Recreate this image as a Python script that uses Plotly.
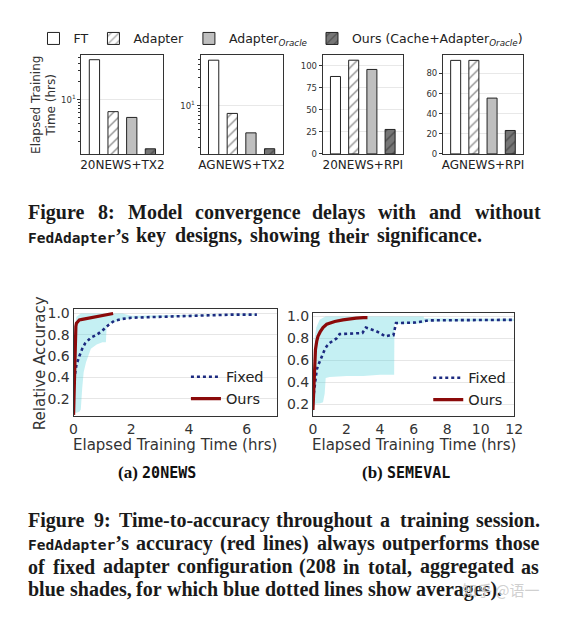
import plotly.graph_objects as go

W, H = 568, 619

# ---- Figure 8 data (elapsed training time, hrs) ----
datasets = ["20NEWS+TX2", "AGNEWS+TX2", "20NEWS+RPI", "AGNEWS+RPI"]
method_names = ["FT", "Adapter", "Adapter<sub><i>Oracle</i></sub>",
                "Ours (Cache+Adapter<sub><i>Oracle</i></sub>)"]
ft_hrs = [46, 58, 88, 93]
adapter_hrs = [6.3, 7.5, 106.5, 93]
oracle_hrs = [5.05, 3.55, 96, 55.5]
ours_hrs = [1.52, 1.93, 27.8, 23.3]

# ---- Figure 9 data (relative accuracy) ----
news_ours_t = [0, 0.02, 0.04, 0.06, 0.08, 0.1, 0.15, 0.2, 0.3, 0.4, 0.5, 0.6, 0.7,
               0.8, 0.9, 1.0, 1.1, 1.2, 1.3, 1.37]
news_ours_acc = [0.05, 0.35, 0.6, 0.8, 0.88, 0.91, 0.93, 0.94, 0.945, 0.95, 0.955,
                 0.96, 0.965, 0.97, 0.975, 0.98, 0.985, 0.99, 0.995, 1.0]
news_fixed_t = [0.02, 0.05, 0.1, 0.2, 0.3, 0.4, 0.6, 0.8, 1.0, 1.2, 1.4, 1.7, 2.0,
                2.5, 3.0, 3.5, 4.0, 4.5, 5.0, 5.5, 6.0, 6.35]
news_fixed_acc = [0.38, 0.45, 0.52, 0.6, 0.67, 0.72, 0.775, 0.8, 0.84, 0.89, 0.93,
                  0.95, 0.96, 0.965, 0.97, 0.975, 0.98, 0.985, 0.99, 0.99, 0.99, 0.99]
news_band_t = [0, 0.05, 0.1, 0.2, 0.25, 0.3, 0.35, 0.43, 0.5, 0.6, 0.8, 1.0, 1.12,
               1.15, 1.3, 1.5, 1.7, 2.0, 3.0, 4.0, 5.0, 6.35]
news_band_lo = [0.07, 0.07, 0.07, 0.08, 0.1, 0.3, 0.45, 0.54, 0.6, 0.67, 0.71, 0.73,
                0.73, 0.9, 0.91, 0.93, 0.945, 0.955, 0.965, 0.975, 0.985, 0.985]
news_band_hi = [0.5, 0.9, 0.97, 0.99, 1.0, 1.0, 1.0, 1.0, 1.0, 1.0, 1.0, 1.0, 1.0,
                1.0, 1.0, 1.0, 1.0, 0.98, 0.985, 0.99, 0.995, 0.995]

sem_ours_t = [0, 0.05, 0.1, 0.15, 0.23, 0.3, 0.43, 0.6, 0.82, 1.0, 1.3, 1.79, 2.2,
              2.57, 3.0, 3.25]
sem_ours_acc = [0.15, 0.4, 0.6, 0.7, 0.78, 0.82, 0.86, 0.9, 0.93, 0.94, 0.955, 0.97,
                0.98, 0.985, 0.99, 0.99]
sem_fixed_t = [0.05, 0.15, 0.23, 0.35, 0.53, 0.7, 0.82, 1.0, 1.2, 1.4, 1.59, 2.0, 2.5,
               2.95, 3.15, 3.4, 3.73, 4.0, 4.3, 4.6, 4.8, 4.95, 5.3, 6.1, 6.9, 8.0,
               9.0, 10.0, 11.0, 12.0]
sem_fixed_acc = [0.3, 0.45, 0.52, 0.57, 0.64, 0.7, 0.73, 0.76, 0.78, 0.8, 0.84, 0.845,
                 0.845, 0.85, 0.9, 0.89, 0.87, 0.85, 0.82, 0.83, 0.83, 0.94, 0.94,
                 0.945, 0.965, 0.965, 0.965, 0.97, 0.97, 0.97]
sem_band_t = [0, 0.1, 0.2, 0.4, 0.6, 0.7, 0.76, 1.0, 2.0, 3.0, 4.0, 4.84, 4.86, 5.5,
              6.6, 6.62, 8, 10, 12]
sem_band_lo = [0.12, 0.2, 0.21, 0.21, 0.22, 0.3, 0.44, 0.45, 0.46, 0.46, 0.47, 0.47,
               0.93, 0.935, 0.94, 0.955, 0.955, 0.96, 0.96]
sem_band_hi = [0.35, 0.8, 0.9, 0.97, 0.99, 1.0, 1.0, 1.0, 1.0, 1.0, 1.0, 1.0, 1.0,
               1.0, 1.0, 0.985, 0.985, 0.98, 0.98]

# ---- caption text ----
fig8_lines = ["Figure 8: Model convergence delays with and without",
              "FedAdapter’s key designs, showing their significance."]
fig9_lines = ["Figure 9: Time-to-accuracy throughout a training session.",
              "FedAdapter’s accuracy (red lines) always outperforms those",
              "of fixed adapter configuration (208 in total, aggregated as",
              "blue shades, for which blue dotted lines show averages)."]

# the page body adds a small margin, so positions are shifted back by it
OFF = 8


def fx(p):
    return (p - OFF) / W


def fy(p):
    return 1 - (p - OFF) / H


SANS = "DejaVu Sans"
SERIF = "Liberation Serif"
MONO = "DejaVu Sans Mono"
CAP_SIZE = 20
MONO_SIZE = 14.5

fig = go.Figure()

# bar panels: pixel boxes
bar_boxes = [(79, 163), (201, 285), (326, 408), (449, 531)]
bar_vals = [ft_hrs, adapter_hrs, oracle_hrs, ours_hrs]
bar_fill = ["white", "white", "#bfbfbf", "#767676"]
bar_shape = ["", "/", "", "/"]

for p in range(4):
    ax = "" if p == 0 else str(p + 1)
    for m in range(4):
        fig.add_trace(go.Bar(
            x=[m], y=[bar_vals[m][p]], name=method_names[m],
            width=0.55, xaxis="x" + ax, yaxis="y" + ax,
            legendgroup=str(m), showlegend=(p == 0), legend="legend",
            marker=dict(color=bar_fill[m], line=dict(color="#222", width=1),
                        pattern=dict(shape=bar_shape[m], fgcolor="#222",
                                     bgcolor=bar_fill[m], size=7, solidity=0.2)),
        ))

axis_frame = dict(showline=True, mirror=True, linecolor="#333", linewidth=1,
                  zeroline=False)
log_ranges = [[0.097, 1.735], [0.199, 1.844]]
lin_ranges = [[0, 112], [0, 98]]
lin_dtick = [25, 20]

for p in range(4):
    key = "" if p == 0 else str(p + 1)
    x0, x1 = bar_boxes[p]
    fig.layout["xaxis" + key] = dict(
        domain=[fx(x0), fx(x1)], anchor="y" + key, range=[-0.7, 3.7],
        tickvals=[1.5], ticktext=[datasets[p]], ticks="", showgrid=False,
        tickfont=dict(family=SANS, size=12, color="#222"), **axis_frame)
    ydict = dict(domain=[fy(152), fy(52)], anchor="x" + key, showgrid=True,
                 gridcolor="#e8e8e8", ticks="outside", ticklen=3, tickcolor="#333",
                 tickfont=dict(family=SANS, size=8.5, color="#333"), **axis_frame)
    if p < 2:
        ydict.update(type="log", range=log_ranges[p], tickvals=[10],
                     ticktext=["10<sup>1</sup>"],
                     minor=dict(ticks="outside", ticklen=2, tickcolor="#333",
                                tickvals=[2, 3, 4, 5, 6, 7, 8, 9, 20, 30, 40, 50, 60],
                                showgrid=False))
    else:
        ydict.update(range=lin_ranges[p - 2], dtick=lin_dtick[p - 2])
    fig.layout["yaxis" + key] = ydict

# accuracy panels
band_fill = "rgba(80,208,218,0.33)"
navy = "#1c2a80"
red = "#8b0a0a"
acc_sets = [
    (news_band_t, news_band_lo, news_band_hi, news_fixed_t, news_fixed_acc,
     news_ours_t, news_ours_acc, "5", "legend2"),
    (sem_band_t, sem_band_lo, sem_band_hi, sem_fixed_t, sem_fixed_acc,
     sem_ours_t, sem_ours_acc, "6", "legend3"),
]
for bt, blo, bhi, ft, fa, ot, oa, k, lg in acc_sets:
    fig.add_trace(go.Scatter(x=bt, y=blo, mode="lines", line=dict(width=0),
                             showlegend=False, hoverinfo="skip",
                             xaxis="x" + k, yaxis="y" + k))
    fig.add_trace(go.Scatter(x=bt, y=bhi, mode="lines", line=dict(width=0),
                             fill="tonexty", fillcolor=band_fill, showlegend=False,
                             hoverinfo="skip", xaxis="x" + k, yaxis="y" + k))
    fig.add_trace(go.Scatter(x=ft, y=fa, mode="lines", name="Fixed", legend=lg,
                             line=dict(color=navy, width=2.6, dash="dot"),
                             xaxis="x" + k, yaxis="y" + k))
    fig.add_trace(go.Scatter(x=ot, y=oa, mode="lines", name="Ours", legend=lg,
                             line=dict(color=red, width=3.2),
                             xaxis="x" + k, yaxis="y" + k))

acc_tick = dict(family=SANS, size=14, color="#333")
fig.layout.xaxis5 = dict(domain=[fx(71), fx(279)], anchor="y5", range=[0, 7.04],
                         tickvals=[0, 2, 4, 6], ticks="", showgrid=False,
                         tickfont=acc_tick, **axis_frame)
fig.layout.yaxis5 = dict(domain=[fy(418), fy(309)], anchor="x5", range=[0.039, 1.046],
                         tickvals=[0.2, 0.4, 0.6, 0.8, 1.0], tickformat=".1f",
                         ticks="", showgrid=True,
                         gridcolor="#e6e6e6", tickfont=acc_tick, **axis_frame)
fig.layout.xaxis6 = dict(domain=[fx(316), fx(522)], anchor="y6", range=[0, 12],
                         dtick=2, ticks="", showgrid=False,
                         tickfont=acc_tick, **axis_frame)
fig.layout.yaxis6 = dict(domain=[fy(418), fy(313)], anchor="x6", range=[0.095, 1.036],
                         tickvals=[0.2, 0.4, 0.6, 0.8, 1.0], tickformat=".1f",
                         ticks="", showgrid=True,
                         gridcolor="#e6e6e6", tickfont=acc_tick, **axis_frame)

ann = []
# axis titles
ann.append(dict(text="Elapsed Training<br>Time (hrs)", x=fx(40), y=fy(102),
                textangle=-90, font=dict(family=SANS, size=12, color="#333")))
ann.append(dict(text="Relative Accuracy", x=fx(36), y=fy(364), textangle=-90,
                font=dict(family=SANS, size=15, color="#333")))
for cx in (175, 419):
    ann.append(dict(text="Elapsed Training Time (hrs)", x=fx(cx), y=fy(447),
                    font=dict(family=SANS, size=15, color="#333")))

# sub captions
mono_span = "<span style=\"font-family:'{}';font-size:{}px\">{}</span>"
ann.append(dict(text="<b>(a) " + mono_span.format(MONO, 15, "20NEWS") + "</b>",
                x=fx(156), y=fy(475), font=dict(family=SERIF, size=17, color="#111")))
ann.append(dict(text="<b>(b) " + mono_span.format(MONO, 15, "SEMEVAL") + "</b>",
                x=fx(411), y=fy(475), font=dict(family=SERIF, size=17, color="#111")))

# caption words (Times-Bold-like advance widths, per em)
widths = {}
for chars, w in [(" .,;", 0.25), ("il", 0.278), ("ftj():-’'", 0.333), ("sI", 0.389),
                 ("ecrz", 0.444), ("agovxy0123456789", 0.5), ("bdhknpquS", 0.556),
                 ("BEFPT", 0.667), ("wACDNR", 0.722), ("GHO", 0.778), ("m", 0.833),
                 ("M", 0.944)]:
    for c in chars:
        widths[c] = w


def word_width(word):
    if word.startswith("FedAdapter"):
        rest = word[len("FedAdapter"):]
        return 10 * 0.602 * MONO_SIZE + sum(widths.get(c, 0.5) for c in rest) * CAP_SIZE
    return sum(widths.get(c, 0.5) for c in word) * CAP_SIZE


def word_markup(word):
    if word.startswith("FedAdapter"):
        word = mono_span.format(MONO, MONO_SIZE, "FedAdapter") + word[len("FedAdapter"):]
    return "<b>" + word + "</b>"


def set_line(text, ypix, left=22, right=545):
    words = text.split(" ")
    ws = [word_width(w) for w in words]
    gap = (right - left - sum(ws)) / (len(words) - 1)
    xpos = left
    for w, wd in zip(words, ws):
        ann.append(dict(text=word_markup(w), x=fx(xpos), y=fy(ypix), xanchor="left",
                        font=dict(family=SERIF, size=CAP_SIZE, color="#1a1a1a")))
        xpos += wd + gap


set_line(fig8_lines[0], 211)
set_line(fig8_lines[1], 235, right=485)
for i, line in enumerate(fig9_lines):
    set_line(line, [524, 547, 571, 594][i], right=(506 if i == 3 else 545))

# watermark
ann.append(dict(text="知乎 @语一", x=fx(508), y=fy(594),
                font=dict(family="Noto Sans CJK SC", size=15, color="rgba(205,205,205,0.95)")))

for a in ann:
    a.setdefault("xref", "paper")
    a.setdefault("yref", "paper")
    a.setdefault("showarrow", False)
    a.setdefault("xanchor", "center")
    a.setdefault("yanchor", "middle")
fig.update_layout(annotations=ann)

fig.update_layout(
    width=W, height=H, margin=dict(l=0, r=0, t=0, b=0),
    paper_bgcolor="white", plot_bgcolor="white", barmode="overlay",
    font=dict(family=SANS, color="#222"),
    legend=dict(orientation="h", x=fx(30), y=fy(20), xanchor="left", yanchor="top",
                font=dict(family=SANS, size=12.5, color="#222"),
                bgcolor="rgba(0,0,0,0)", traceorder="normal"),
    legend2=dict(x=fx(186), y=fy(362), xanchor="left", yanchor="top",
                 font=dict(family=SANS, size=14.5, color="#222"),
                 bgcolor="rgba(0,0,0,0)", tracegroupgap=0),
    legend3=dict(x=fx(434), y=fy(363), xanchor="left", yanchor="top",
                 font=dict(family=SANS, size=14.5, color="#222"),
                 bgcolor="rgba(0,0,0,0)", tracegroupgap=0),
    showlegend=True,
)

fig.write_html("out.html")
